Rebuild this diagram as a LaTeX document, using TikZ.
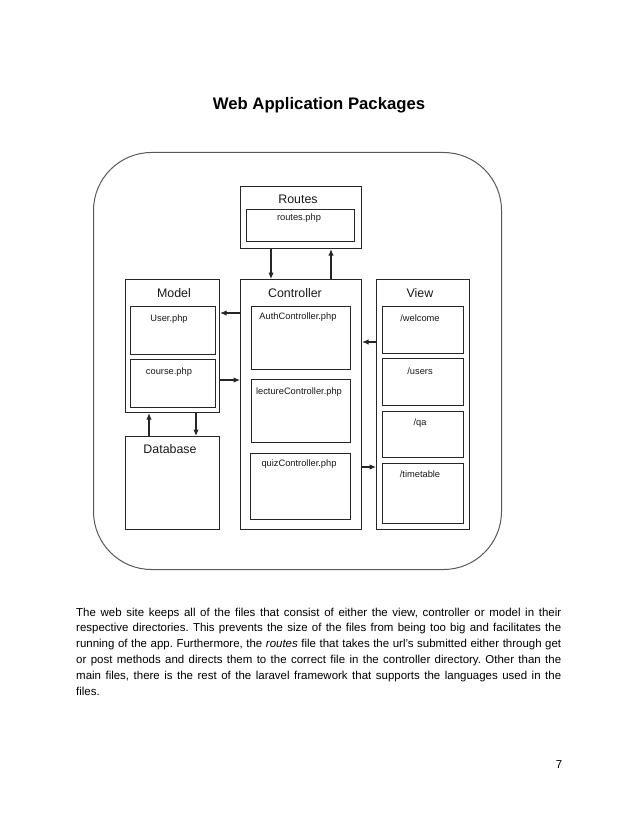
\documentclass[tikz,border=0pt]{standalone}
\usepackage{fontspec}
\setmainfont{Liberation Sans}
\usetikzlibrary{arrows.meta}
\frenchspacing
\begin{document}
\begin{tikzpicture}[x=1pt,y=-1pt,
  box/.style={draw=black!85, line width=1.1pt, rectangle, inner sep=0pt, anchor=north west},
  frame/.style={draw=black!65, line width=1pt, rectangle, rounded corners=58pt, inner sep=0pt, anchor=north west},
  head/.style={font=\fontsize{12.4}{14}\selectfont, text=black!90, inner sep=0pt},
  file/.style={font=\fontsize{9.3}{11}\selectfont, text=black!90, inner sep=0pt},
  arr/.style={draw=black!85, line width=1.1pt, -{Latex[length=6.5pt,width=5.5pt]}},
  every node/.append style={text depth=0pt}
]
\useasboundingbox (0,0) rectangle (638,826);
\fill[white] (0,0) rectangle (638,826);

\node[font=\bfseries\fontsize{16.7}{20}\selectfont, anchor=base, inner sep=0pt] (title) at (319,110) {Web Application Packages};

\node[frame, minimum width=408pt, minimum height=417pt] (frm) at (93,152) {};

% Routes
\node[box, minimum width=121pt, minimum height=62pt] (routes) at (240,186) {};
\node[box, minimum width=108pt, minimum height=32pt] (routesphp) at (246,209) {};
\node[head] (routesT) at (298,199) {Routes};
\node[file] (routesphpT) at (299,217) {routes.php};

% Controller
\node[box, minimum width=121pt, minimum height=250pt] (controller) at (240,279) {};
\node[box, minimum width=99pt, minimum height=63pt] (auth) at (251,306) {};
\node[box, minimum width=99pt, minimum height=63pt] (lecture) at (251,379) {};
\node[box, minimum width=100pt, minimum height=66pt] (quiz) at (250,453) {};
\node[head] (controllerT) at (295,293) {Controller};
\node[file] (authT) at (298,316) {AuthController.php};
\node[file] (lectureT) at (299,391) {lectureController.php};
\node[file] (quizT) at (299,463) {quizController.php};

% Model
\node[box, minimum width=94pt, minimum height=133pt] (model) at (125,279) {};
\node[box, minimum width=85pt, minimum height=48pt] (user) at (130,306) {};
\node[box, minimum width=85pt, minimum height=48pt] (course) at (130,359) {};
\node[head] (modelT) at (174,293) {Model};
\node[file] (userT) at (169,318) {User.php};
\node[file] (courseT) at (169,371) {course.php};

% Database
\node[box, minimum width=94pt, minimum height=93pt] (database) at (125,436) {};
\node[head] (databaseT) at (170,449) {Database};

% View
\node[box, minimum width=93pt, minimum height=250pt] (view) at (376,279) {};
\node[box, minimum width=81pt, minimum height=47pt] (welcome) at (382,306) {};
\node[box, minimum width=81pt, minimum height=47pt] (users) at (382,358) {};
\node[box, minimum width=81pt, minimum height=46pt] (qa) at (382,411) {};
\node[box, minimum width=81pt, minimum height=60pt] (timetable) at (382,463) {};
\node[head] (viewT) at (420,293) {View};
\node[file] (welcomeT) at (420,318) {/welcome};
\node[file] (usersT) at (420,371) {/users};
\node[file] (qaT) at (420,422) {/qa};
\node[file] (timetableT) at (420,474) {/timetable};

% arrow positions
\coordinate (xa) at (271,0);
\coordinate (xb) at (331,0);
\coordinate (ya) at (0,313);
\coordinate (yb) at (0,380);
\coordinate (yc) at (0,342);
\coordinate (yd) at (0,467);
\coordinate (xc) at (149,0);
\coordinate (xd) at (196,0);

\draw[arr] (routes.south -| xa) -- (controller.north -| xa);
\draw[arr] (controller.north -| xb) -- (routes.south -| xb);
\draw[arr] (controller.west |- ya) -- (model.east |- ya);
\draw[arr] (model.east |- yb) -- (controller.west |- yb);
\draw[arr] (view.west |- yc) -- (controller.east |- yc);
\draw[arr] (controller.east |- yd) -- (view.west |- yd);
\draw[arr] (database.north -| xc) -- (model.south -| xc);
\draw[arr] (model.south -| xd) -- (database.north -| xd);

\node[anchor=base west, inner sep=0pt, text width=485pt, align=justify,
      font=\fontsize{11.47}{15.9}\selectfont, text depth=] (para) at (76,616)
{The web site keeps all of the files that consist of either the view, controller or model in their\linebreak
respective directories. This prevents the size of the files from being too big and facilitates the\linebreak
running of the app. Furthermore, the \textit{routes} file that takes the url's submitted either through get\linebreak
or post methods and directs them to the correct file in the controller directory. Other than the\linebreak
main files, there is the rest of the laravel framework that supports the languages used in the\linebreak
files.};

\node[anchor=base, inner sep=0pt, font=\fontsize{11.47}{14}\selectfont] (pagenum) at (559,768) {7};
\end{tikzpicture}
\end{document}
